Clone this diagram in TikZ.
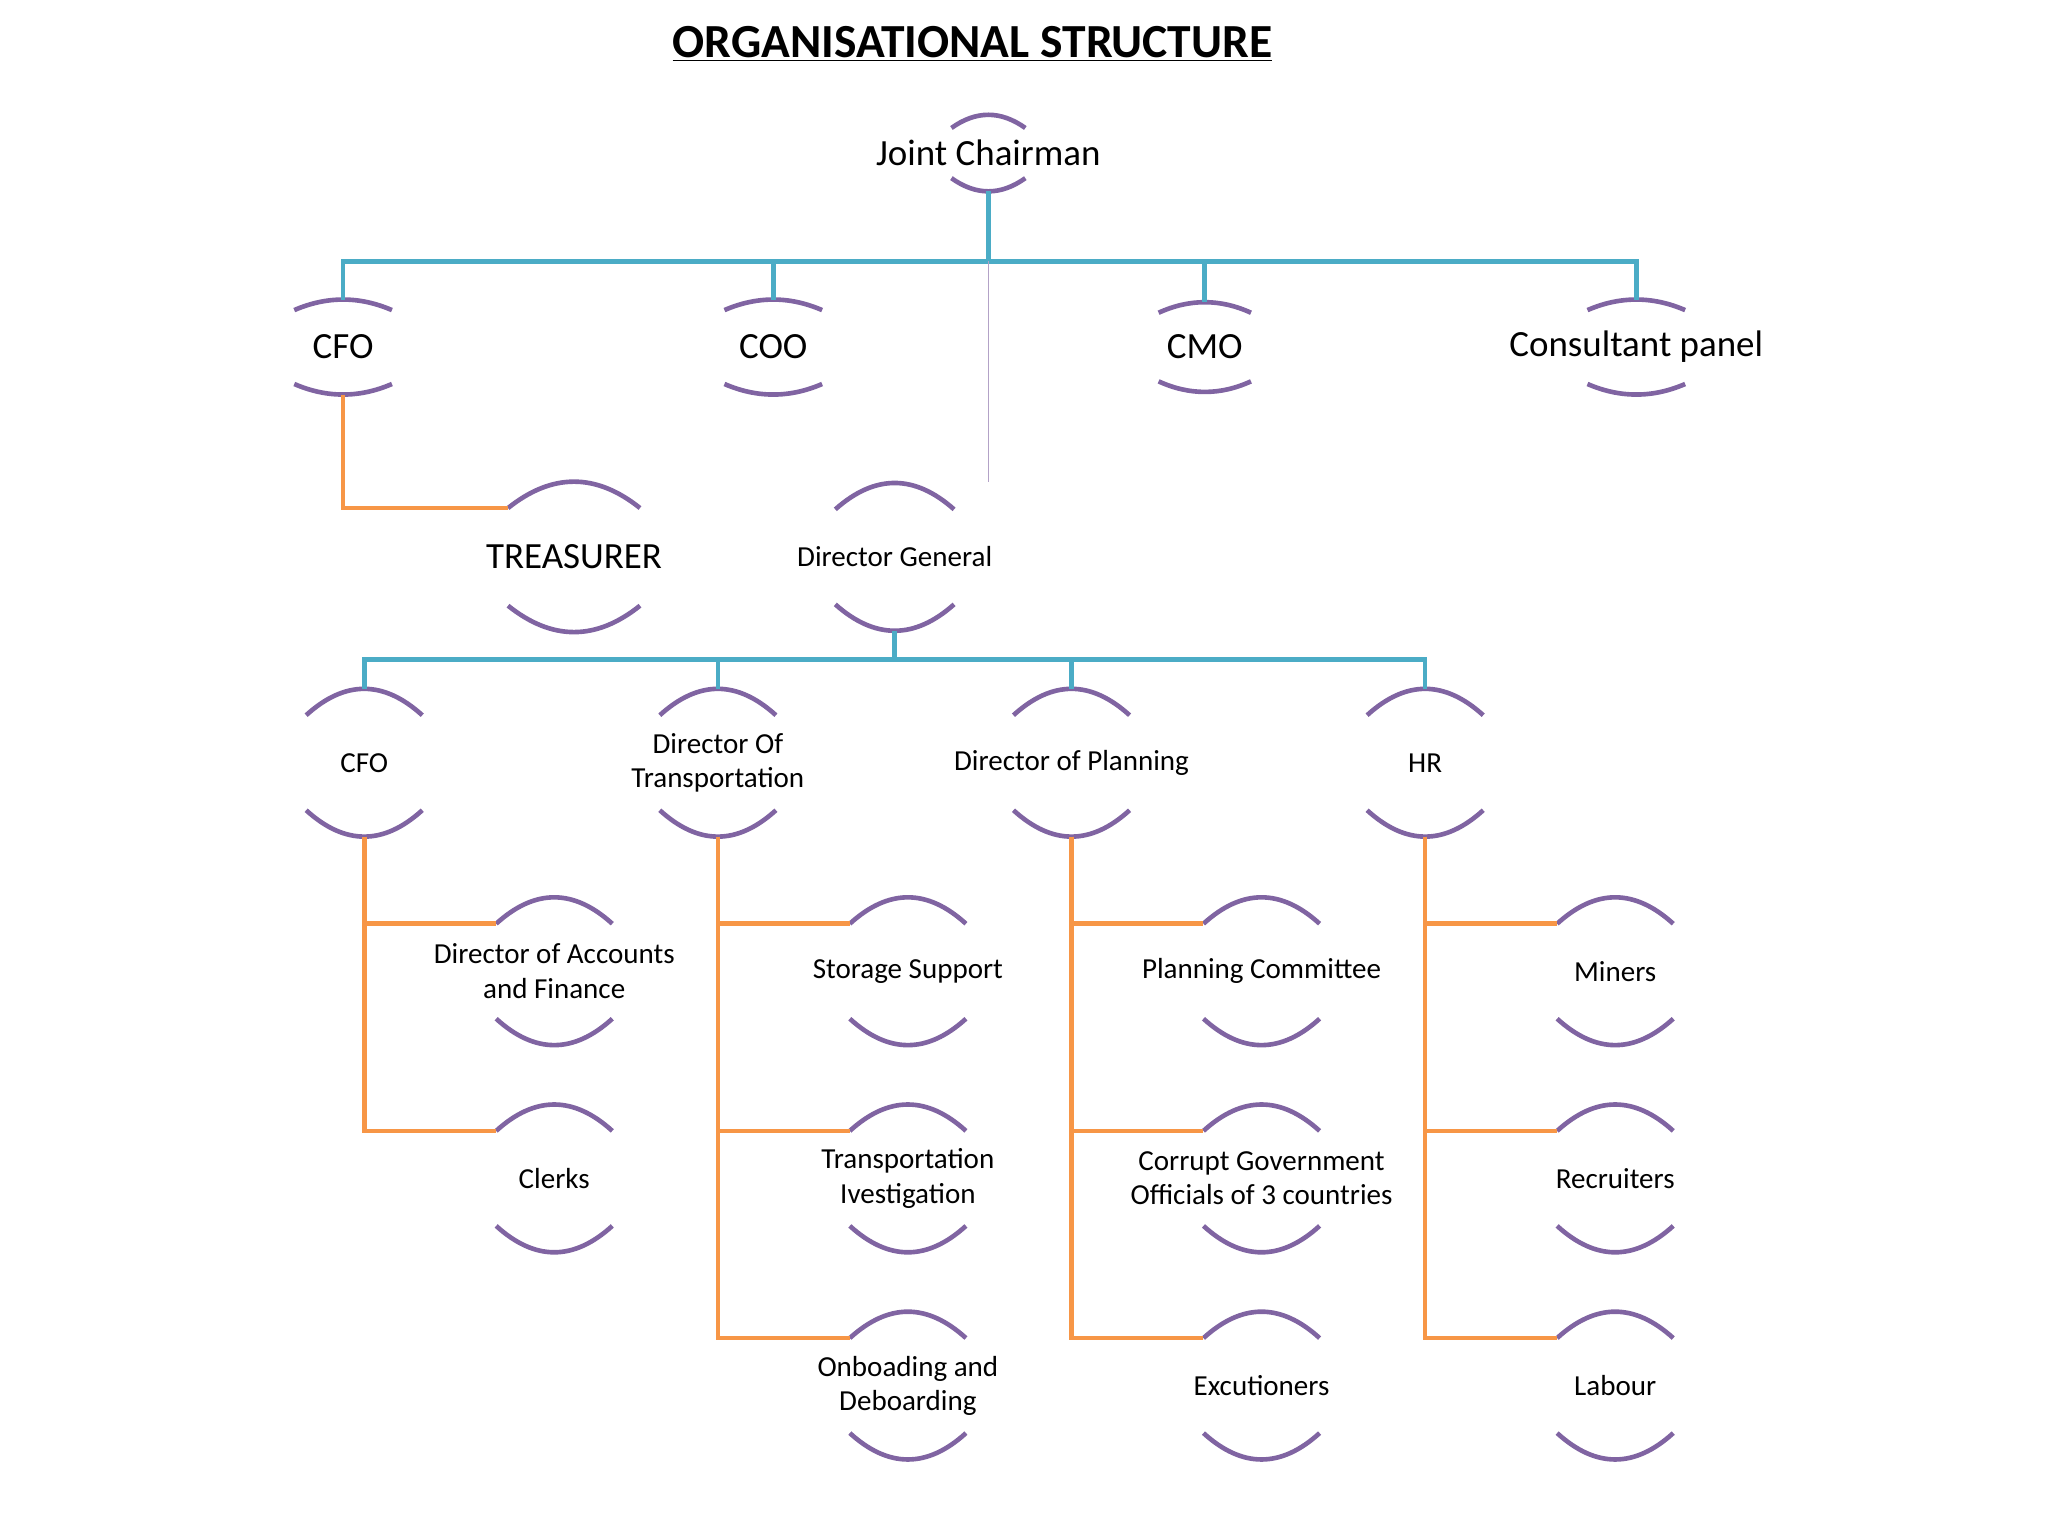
\documentclass[tikz,border=0pt]{standalone}
\usepackage{fontspec}
\setmainfont{Carlito}
\definecolor{cblue}{HTML}{4BACC6}
\definecolor{cpurp}{HTML}{8064A2}
\definecolor{corng}{HTML}{F79646}
\begin{document}
\begin{tikzpicture}[x=1pt,y=-1pt,
  arcl/.style={draw=cpurp,line width=3.5pt},
  bl/.style={draw=cblue,line width=3.5pt},
  ol/.style={draw=corng,line width=3.5pt},
  lab/.style={align=center,font=\fontsize{22}{26}\selectfont,inner sep=0pt},
  big/.style={align=center,font=\fontsize{28}{32}\selectfont,inner sep=0pt}]
\useasboundingbox (0,0) rectangle (1552,1164);
\fill[white] (0,0) rectangle (1552,1164);
% #1 name #2 x #3 y #4 halfwidth #5 halfheight #6 sagitta #7 style #8 text
\newcommand\onode[8]{%
  \node[#7] (#1) at (#2,#3) {#8};
  \coordinate (#1-t) at (#2,{#3-#5});
  \coordinate (#1-b) at (#2,{#3+#5});
  \coordinate (#1-tl) at ({#2-#4},{#3-#5+#6});
  \draw[arcl] ({#2-#4},{#3-#5+#6}) .. controls ({#2-#4/3},{#3-#5-#6/3}) and ({#2+#4/3},{#3-#5-#6/3}) .. ({#2+#4},{#3-#5+#6});
  \draw[arcl] ({#2-#4},{#3+#5-#6}) .. controls ({#2-#4/3},{#3+#5+#6/3}) and ({#2+#4/3},{#3+#5+#6/3}) .. ({#2+#4},{#3+#5-#6});
}
\node[font=\bfseries\fontsize{36}{40}\selectfont,inner sep=0pt] (title) at (737,33) {\underline{ORGANISATIONAL STRUCTURE}};
\onode{jc}{749}{116}{28}{29}{10}{big}{Joint Chairman}
\onode{cfo}{260}{263}{37}{36}{8}{big}{CFO}
\onode{coo}{586}{263}{37}{36}{8}{big}{COO}
\onode{cmo}{913}{263}{35}{34}{8}{big}{CMO}
\onode{cp}{1240}{263}{37}{36}{8}{big}{Consultant panel}
\onode{tr}{435}{422}{50}{57}{20}{big}{TREASURER}
\onode{dg}{678}{422}{45}{56}{20}{lab}{Director General}
\onode{cfob}{276}{578}{44}{56}{20}{lab}{CFO}
\onode{dot}{544}{578}{44}{56}{20}{lab}{Director Of\\Transportation}
\onode{dop}{812}{578}{44}{56}{20}{lab}{Director of Planning}
\onode{hr}{1080}{578}{44}{56}{20}{lab}{HR}
\onode{a1}{420}{736}{44}{56}{20}{lab}{Director of Accounts\\and Finance}
\onode{a2}{420}{893}{44}{56}{20}{lab}{Clerks}
\onode{b1}{688}{736}{44}{56}{20}{lab}{Storage Support}
\onode{b2}{688}{893}{44}{56}{20}{lab}{Transportation\\Ivestigation}
\onode{b3}{688}{1050}{44}{56}{20}{lab}{Onboading and\\Deboarding}
\onode{c1}{956}{736}{44}{56}{20}{lab}{Planning Committee}
\onode{c2}{956}{893}{44}{56}{20}{lab}{Corrupt Government\\Officials of 3 countries}
\onode{c3}{956}{1050}{44}{56}{20}{lab}{Excutioners}
\onode{d1}{1224}{736}{44}{56}{20}{lab}{Miners}
\onode{d2}{1224}{893}{44}{56}{20}{lab}{Recruiters}
\onode{d3}{1224}{1050}{44}{56}{20}{lab}{Labour}
% top connectors
\coordinate (jcj) at (749,198);
\draw[bl] (jc-b) -- (jcj);
\foreach \n in {cfo,coo,cmo,cp} \draw[bl] (jcj) -| (\n-t);
\draw[cpurp!60,line width=1.2pt] (jcj) -- (749,365);
\draw[ol] (cfo-b) |- (tr-tl);
\coordinate (dgj) at (678,500);
\draw[bl] (dg-b) -- (dgj);
\foreach \n in {cfob,dot,dop,hr} \draw[bl] (dgj) -| (\n-t);
\draw[ol] (cfob-b) |- (a1-tl);
\draw[ol] (cfob-b) |- (a2-tl);
\foreach \p/\c in {dot/b,dop/c,hr/d}{
  \draw[ol] (\p-b) |- (\c1-tl);
  \draw[ol] (\p-b) |- (\c2-tl);
  \draw[ol] (\p-b) |- (\c3-tl);
}
\end{tikzpicture}
\end{document}
